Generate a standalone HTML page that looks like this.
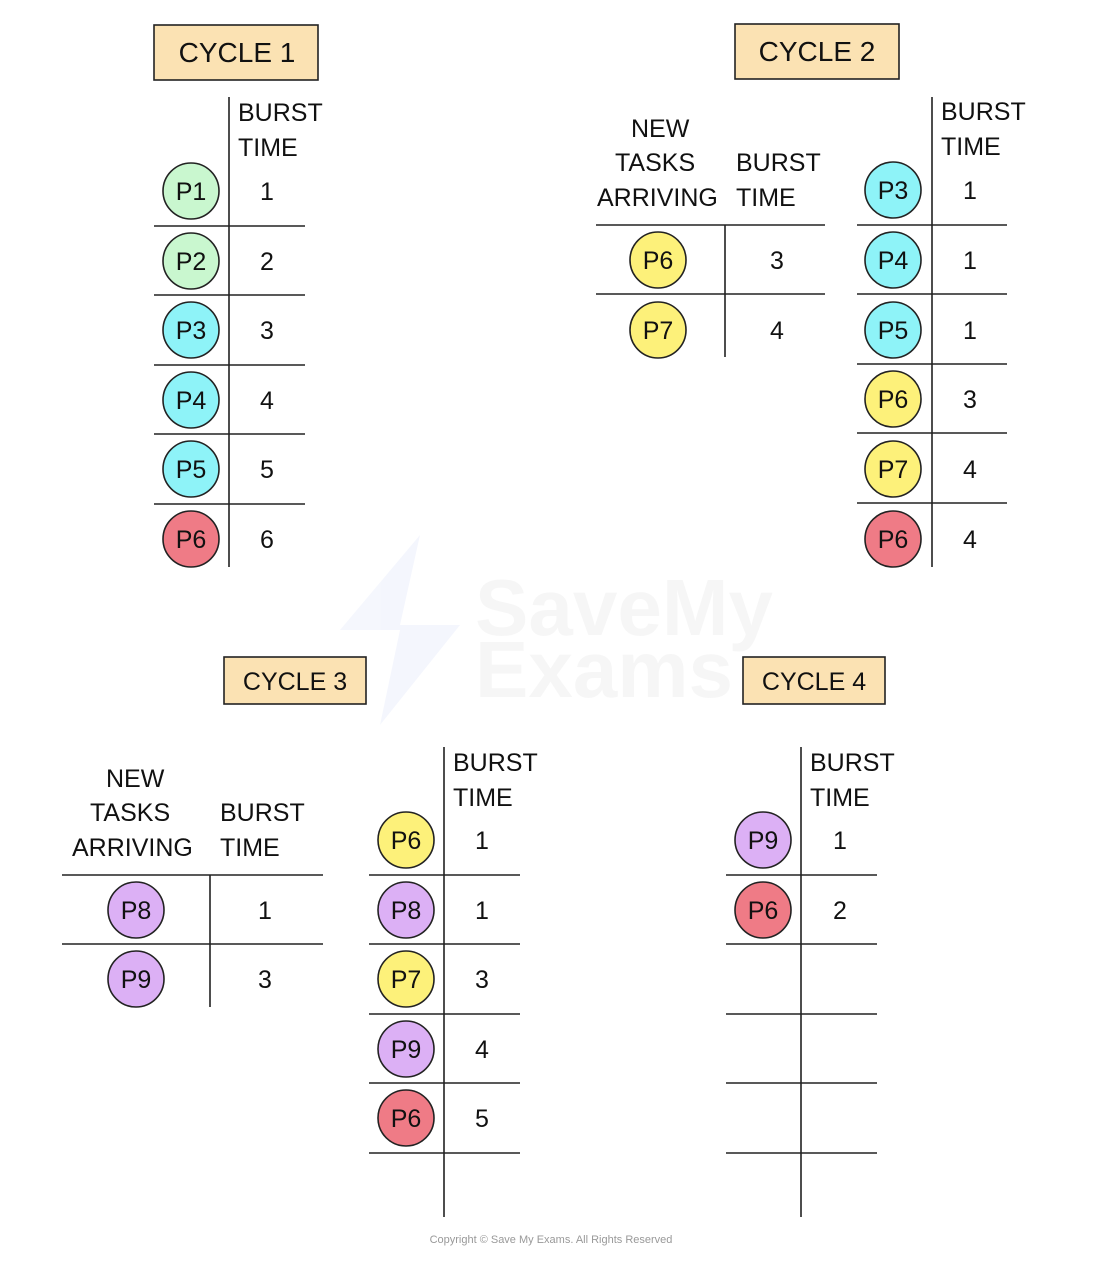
<!DOCTYPE html>
<html><head><meta charset="utf-8"><style>
html,body{margin:0;padding:0;background:#fff;}
svg text{font-family:"Liberation Sans",sans-serif;font-size:25px;fill:#111;}
</style></head><body>
<svg width="1100" height="1257" viewBox="0 0 1100 1257" xmlns="http://www.w3.org/2000/svg">
<g opacity="0.05"><polygon points="420,535 340,630 400,630 380,725 460,625 400,625" fill="#3b5bdb"/>
<text x="475" y="635" style="font-size:80px;font-weight:bold;fill:#666">SaveMy</text>
<text x="475" y="697" style="font-size:80px;font-weight:bold;fill:#666">Exams</text></g>

<g stroke="#222" stroke-width="1.6">
<rect x="154" y="25" width="164" height="55" fill="#fbe2b3"/>
<rect x="735" y="24" width="164" height="55" fill="#fbe2b3"/>
<rect x="224" y="657" width="142" height="47" fill="#fbe2b3"/>
<rect x="743" y="657" width="142" height="47" fill="#fbe2b3"/>
<!-- cycle1 -->
<line x1="229" y1="97" x2="229" y2="567"/>
<line x1="154" y1="226" x2="305" y2="226"/><line x1="154" y1="295" x2="305" y2="295"/><line x1="154" y1="365" x2="305" y2="365"/><line x1="154" y1="434" x2="305" y2="434"/><line x1="154" y1="504" x2="305" y2="504"/>
<!-- cycle2 right -->
<line x1="932" y1="97" x2="932" y2="567"/>
<line x1="857" y1="225" x2="1007" y2="225"/><line x1="857" y1="294" x2="1007" y2="294"/><line x1="857" y1="364" x2="1007" y2="364"/><line x1="857" y1="433" x2="1007" y2="433"/><line x1="857" y1="503" x2="1007" y2="503"/>
<!-- cycle2 new -->
<line x1="596" y1="225" x2="825" y2="225"/><line x1="596" y1="294" x2="825" y2="294"/><line x1="725" y1="225" x2="725" y2="357"/>
<!-- cycle3 new -->
<line x1="62" y1="875" x2="323" y2="875"/><line x1="62" y1="944" x2="323" y2="944"/><line x1="210" y1="875" x2="210" y2="1007"/>
<!-- cycle3 right -->
<line x1="444" y1="747" x2="444" y2="1217"/>
<line x1="369" y1="875" x2="520" y2="875"/><line x1="369" y1="944" x2="520" y2="944"/><line x1="369" y1="1014" x2="520" y2="1014"/><line x1="369" y1="1083" x2="520" y2="1083"/><line x1="369" y1="1153" x2="520" y2="1153"/>
<!-- cycle4 -->
<line x1="801" y1="747" x2="801" y2="1217"/>
<line x1="726" y1="875" x2="877" y2="875"/><line x1="726" y1="944" x2="877" y2="944"/><line x1="726" y1="1014" x2="877" y2="1014"/><line x1="726" y1="1083" x2="877" y2="1083"/><line x1="726" y1="1153" x2="877" y2="1153"/>

<circle cx="191" cy="191" r="28" fill="#c9f7cf"/><circle cx="191" cy="261" r="28" fill="#c9f7cf"/>
<circle cx="191" cy="330" r="28" fill="#8ef3f8"/><circle cx="191" cy="400" r="28" fill="#8ef3f8"/><circle cx="191" cy="469" r="28" fill="#8ef3f8"/>
<circle cx="191" cy="539" r="28" fill="#ef7b86"/>

<circle cx="893" cy="190" r="28" fill="#8ef3f8"/><circle cx="893" cy="260" r="28" fill="#8ef3f8"/><circle cx="893" cy="330" r="28" fill="#8ef3f8"/>
<circle cx="893" cy="399" r="28" fill="#fdf17a"/><circle cx="893" cy="469" r="28" fill="#fdf17a"/><circle cx="893" cy="539" r="28" fill="#ef7b86"/>
<circle cx="658" cy="260" r="28" fill="#fdf17a"/><circle cx="658" cy="330" r="28" fill="#fdf17a"/>

<circle cx="136" cy="910" r="28" fill="#dcb0f5"/><circle cx="136" cy="979" r="28" fill="#dcb0f5"/>
<circle cx="406" cy="840" r="28" fill="#fdf17a"/><circle cx="406" cy="910" r="28" fill="#dcb0f5"/><circle cx="406" cy="979" r="28" fill="#fdf17a"/><circle cx="406" cy="1049" r="28" fill="#dcb0f5"/><circle cx="406" cy="1118" r="28" fill="#ef7b86"/>
<circle cx="763" cy="840" r="28" fill="#dcb0f5"/><circle cx="763" cy="910" r="28" fill="#ef7b86"/>
</g>

<g text-anchor="middle">
<text x="237" y="62" style="font-size:28px">CYCLE 1</text>
<text x="817" y="61" style="font-size:28px">CYCLE 2</text>
<text x="295" y="690">CYCLE 3</text>
<text x="814" y="690">CYCLE 4</text>
<!-- circle labels -->
<text x="191" y="200">P1</text><text x="191" y="270">P2</text><text x="191" y="339">P3</text><text x="191" y="409">P4</text><text x="191" y="478">P5</text><text x="191" y="548">P6</text>
<text x="267" y="200">1</text><text x="267" y="270">2</text><text x="267" y="339">3</text><text x="267" y="409">4</text><text x="267" y="478">5</text><text x="267" y="548">6</text>

<text x="893" y="199">P3</text><text x="893" y="269">P4</text><text x="893" y="339">P5</text><text x="893" y="408">P6</text><text x="893" y="478">P7</text><text x="893" y="548">P6</text>
<text x="970" y="199">1</text><text x="970" y="269">1</text><text x="970" y="339">1</text><text x="970" y="408">3</text><text x="970" y="478">4</text><text x="970" y="548">4</text>
<text x="658" y="269">P6</text><text x="658" y="339">P7</text><text x="777" y="269">3</text><text x="777" y="339">4</text>

<text x="136" y="919">P8</text><text x="136" y="988">P9</text><text x="265" y="919">1</text><text x="265" y="988">3</text>
<text x="406" y="849">P6</text><text x="406" y="919">P8</text><text x="406" y="988">P7</text><text x="406" y="1058">P9</text><text x="406" y="1127">P6</text>
<text x="482" y="849">1</text><text x="482" y="919">1</text><text x="482" y="988">3</text><text x="482" y="1058">4</text><text x="482" y="1127">5</text>
<text x="763" y="849">P9</text><text x="763" y="919">P6</text><text x="840" y="849">1</text><text x="840" y="919">2</text>
</g>

<text x="238" y="121">BURST</text><text x="238" y="156">TIME</text>
<text x="941" y="120">BURST</text><text x="941" y="155">TIME</text>
<text x="631" y="137">NEW</text><text x="615" y="171">TASKS</text><text x="736" y="171">BURST</text><text x="597" y="206">ARRIVING</text><text x="736" y="206">TIME</text>
<text x="106" y="787">NEW</text><text x="90" y="821">TASKS</text><text x="220" y="821">BURST</text><text x="72" y="856">ARRIVING</text><text x="220" y="856">TIME</text>
<text x="453" y="771">BURST</text><text x="453" y="806">TIME</text>
<text x="810" y="771">BURST</text><text x="810" y="806">TIME</text>

<text x="551" y="1243" text-anchor="middle" style="font-size:11px;fill:#999">Copyright © Save My Exams. All Rights Reserved</text>
</svg>
</body></html>
